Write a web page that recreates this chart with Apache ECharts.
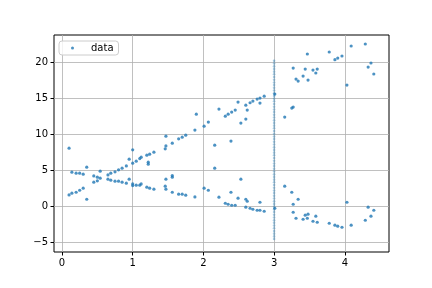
<!DOCTYPE html>
<html>
<head>
<meta charset="utf-8">
<script src="https://cdn.jsdelivr.net/npm/echarts@6/dist/echarts.min.js"></script>
<style>html,body{margin:0;padding:0;background:#fff}#c{width:432px;height:288px}</style>
</head>
<body>
<div id="c"></div>
<script>
// Scattered points (x, y)
const xs = [0.10,0.14,0.20,0.25,0.30,0.35,0.10,0.14,0.20,0.25,0.30,0.35,0.45,0.50,0.54,0.45,0.50,0.54,
  0.65,0.69,0.75,0.80,0.85,0.91,0.95,1.00,1.00,1.05,0.65,0.69,0.75,0.80,0.85,0.91,0.95,1.00,1.00,1.05,
  1.10,1.12,1.20,1.24,1.30,1.22,1.22,1.10,1.12,1.20,1.24,1.30,
  1.46,1.47,1.47,1.56,1.65,1.70,1.75,1.88,1.90,2.01,2.07,1.46,1.47,1.47,1.56,1.56,1.56,1.65,1.70,1.75,1.88,2.01,2.07,
  2.16,2.16,2.22,2.22,2.31,2.35,2.40,2.45,2.49,2.31,2.35,2.40,2.45,2.39,2.39,2.49,2.53,2.53,2.60,2.60,2.62,2.60,2.62,2.60,
  2.66,2.70,2.76,2.80,2.80,2.86,2.66,2.70,2.76,2.80,2.80,2.86,3.01,3.01,
  3.27,3.47,3.78,3.86,3.90,3.96,4.09,4.29,4.37,4.33,4.41,4.03,3.31,3.34,3.41,3.44,3.48,3.55,3.59,3.61,3.27,3.25,3.15,
  3.15,3.25,3.34,3.27,3.27,3.31,3.41,3.44,3.47,3.48,3.55,3.59,3.61,3.78,3.86,3.90,3.96,4.03,4.09,4.29,4.33,4.37,4.41];
const ys = [8.02,4.69,4.55,4.55,4.41,5.38,1.53,1.77,1.90,2.18,2.46,0.93,4.17,3.99,3.85,3.30,3.48,4.83,
  4.31,4.55,4.73,5.01,5.24,5.56,6.49,7.79,5.94,6.21,3.71,3.57,3.44,3.44,3.30,3.16,3.71,3.06,2.83,2.88,
  6.58,6.77,7.05,7.19,7.47,6.08,5.80,2.88,3.06,2.60,2.46,2.32,
  7.93,8.34,9.69,8.72,9.32,9.55,9.83,10.53,12.75,11.08,11.64,2.74,2.32,3.71,3.99,4.21,1.90,1.63,1.63,1.49,1.25,2.46,2.18,
  8.44,5.24,13.45,1.21,12.47,12.75,13.03,13.31,14.42,0.37,0.23,0.09,0.09,9.00,1.90,1.07,11.50,3.71,12.06,14.00,13.31,0.93,0.65,-0.18,
  14.33,14.56,14.84,14.98,14.28,15.25,-0.32,-0.46,-0.60,-0.60,0.51,-0.74,15.53,-0.32,
  19.15,21.10,21.38,20.31,20.54,20.82,22.21,22.49,19.85,19.29,18.32,16.79,17.62,17.34,18.04,19.01,17.48,18.87,18.46,19.01,13.73,13.59,12.34,
  2.74,1.90,0.93,0.23,-0.88,-1.71,-1.85,-1.29,-1.71,-1.15,-2.13,-1.43,-2.27,-2.41,-2.68,-2.82,-2.96,0.51,-2.68,-1.99,-0.18,-1.43,-0.60];
// Column of points at x = 3
const columnX = 3;
const columnYs = [-4.6,-4.23,-3.85,-3.48,-3.1,-2.73,-2.35,-1.98,-1.6,-1.23,-0.85,-0.48,-0.1,0.28,0.65,1.03,1.4,1.78,2.15,2.53,
  2.9,3.28,3.65,4.03,4.4,4.78,5.15,5.53,5.9,6.28,6.65,7.03,7.4,7.78,8.15,8.53,8.9,9.28,9.65,10.03,10.4,10.78,11.15,11.53,
  11.9,12.28,12.65,13.03,13.4,13.78,14.15,14.53,14.9,15.28,15.65,16.03,16.4,16.78,17.15,17.53,17.9,18.28,18.65,19.03,19.4,19.78,20.15];
const xTicks = [0,1,2,3,4];
const yTicks = [-5,0,5,10,15,20];
const seriesName = 'data';

const pts = [];
for (let i = 0; i < xs.length; i++) pts.push([xs[i], ys[i]]);
for (let i = 0; i < columnYs.length; i++) pts.push({value:[columnX, columnYs[i]], symbolSize:2.6, itemStyle:{opacity:0.4}});

const font = 'DejaVu Sans';
const chart = echarts.init(document.getElementById('c'), null, {renderer:'canvas'});
chart.setOption({
  animation:false,
  backgroundColor:'#fff',
  grid:{left:54, right:43, top:35, bottom:36, show:true, borderColor:'#000', borderWidth:1, backgroundColor:'transparent'},
  xAxis:{type:'value', min:-0.113, max:4.625,
    axisLine:{show:false, onZero:false},
    axisTick:{show:true, length:3.5, lineStyle:{color:'#000', width:1}, customValues:xTicks},
    axisLabel:{color:'#000', fontFamily:font, fontSize:10, margin:6, customValues:xTicks, formatter:v=>String(v)},
    splitLine:{show:true, lineStyle:{color:'#b0b0b0', width:0.8}}},
  yAxis:{type:'value', min:-6.4, max:23.74,
    axisLine:{show:false, onZero:false},
    axisTick:{show:true, length:3.5, lineStyle:{color:'#000', width:1}, customValues:yTicks},
    axisLabel:{color:'#000', fontFamily:font, fontSize:10, margin:6, customValues:yTicks, formatter:v=>(v<0?'\u2212'+Math.abs(v):String(v))},
    splitLine:{show:true, lineStyle:{color:'#b0b0b0', width:0.8}}},
  legend:{show:true, left:59, top:41, orient:'horizontal',
    data:[{name:seriesName, icon:'circle'}],
    itemWidth:3, itemHeight:3,
    padding:[2,5,2,12], borderColor:'#cccccc', borderWidth:1, borderRadius:3, backgroundColor:'rgba(255,255,255,0.8)',
    textStyle:{fontFamily:font, fontSize:10, color:'#000', padding:[0,0,0,12]}},
  series:[{name:seriesName, type:'scatter', symbol:'circle', symbolSize:3.2,
    itemStyle:{color:'#1f77b4'}, data:pts}]
});
</script>
</body>
</html>
